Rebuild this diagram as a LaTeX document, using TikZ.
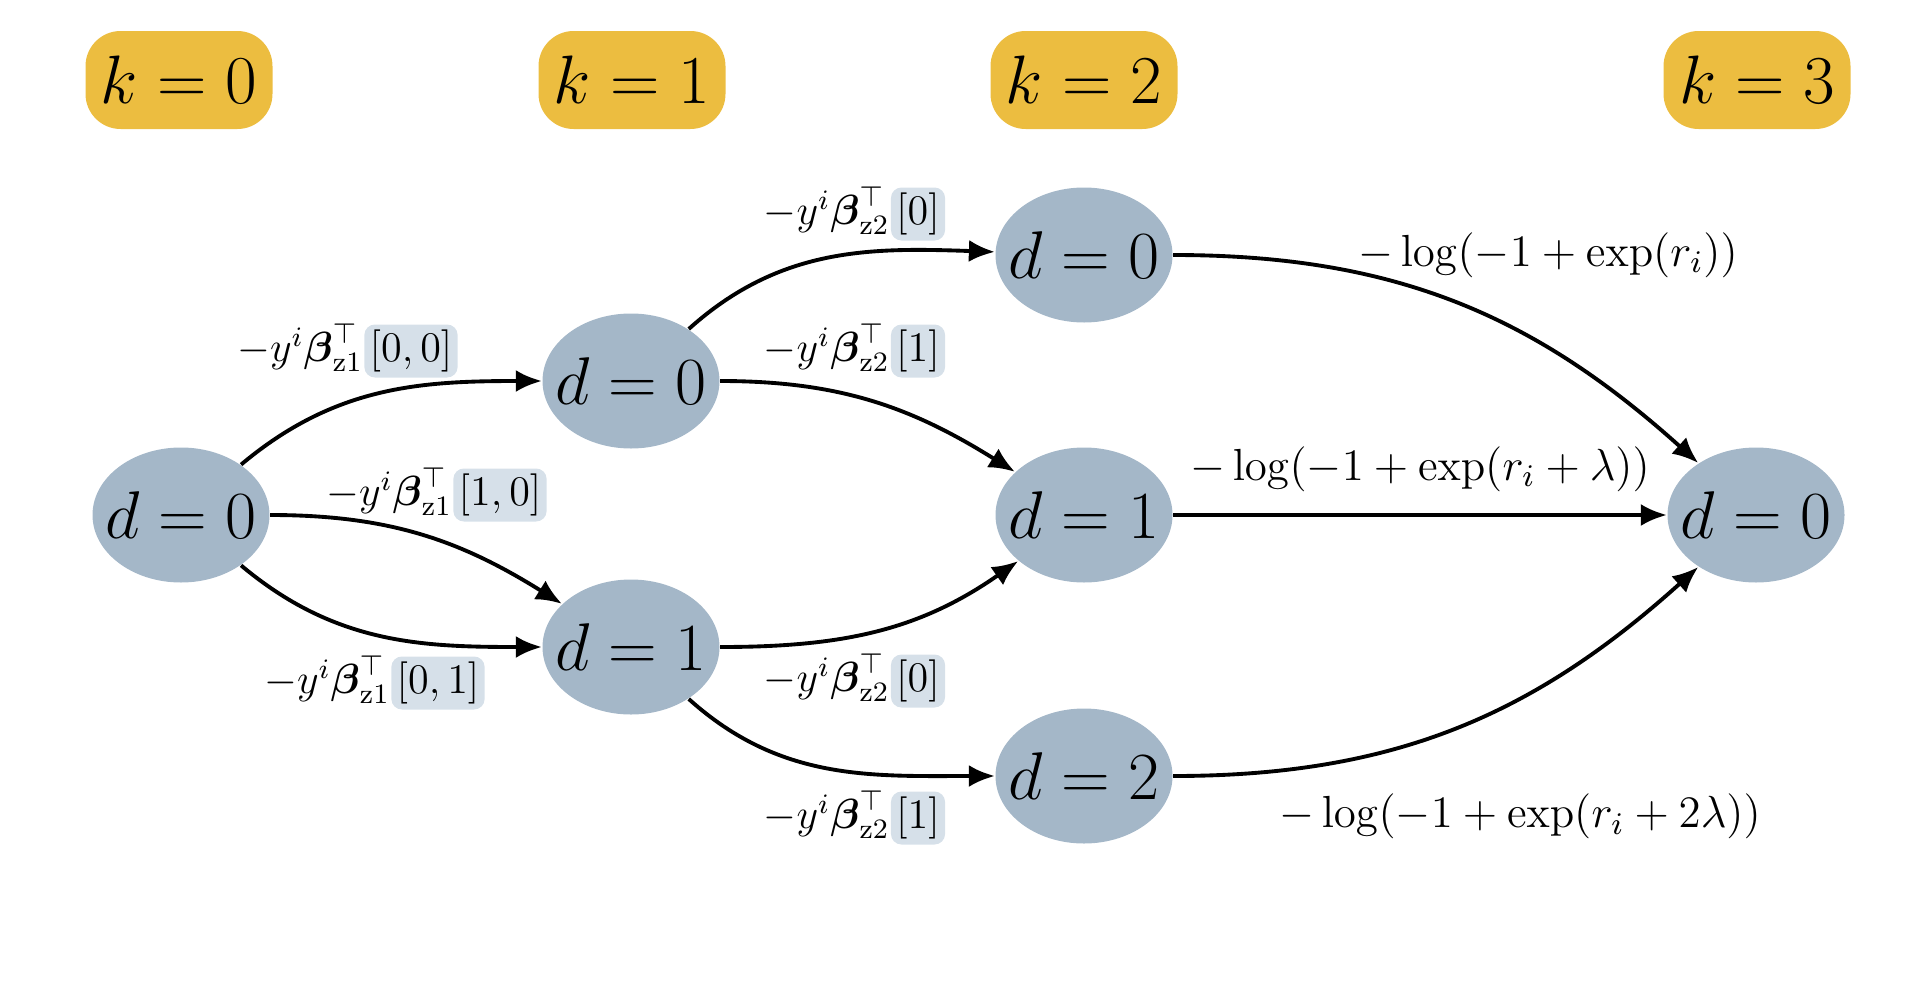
\RequirePackage{fix-cm}
\documentclass[tikz,border=0pt]{standalone}
\usepackage{amsmath,amssymb}
\usepackage{xcolor}
\definecolor{kyellow}{RGB}{236,189,64}
\definecolor{dgray}{RGB}{164,183,200}
\definecolor{hlblue}{RGB}{214,224,233}
\usetikzlibrary{arrows.meta,positioning,shapes.geometric}

\begin{document}
\begin{tikzpicture}[
  stage/.style={fill=kyellow,rounded corners=10pt,minimum width=1.87cm,minimum height=0.98cm,
    inner sep=0pt,font=\fontsize{19.5}{23}\selectfont},
  state/.style={ellipse,fill=dgray,minimum width=1.77cm,minimum height=1.35cm,
    inner xsep=-0.3cm,inner ysep=0pt,font=\fontsize{19.2}{23}\selectfont},
  hl/.style={fill=hlblue,rounded corners=3pt,inner sep=1.5pt,minimum height=0.53cm,font=\large},
  lbl/.style={inner sep=0pt,font=\large},
  cost/.style={inner sep=0pt,font=\fontsize{12.8}{15}\selectfont},
  arr/.style={-{Latex[length=2.6mm,width=2.2mm]},line width=1.1pt}
]
  \useasboundingbox (0,0) rectangle (19.2,9.92);
  % Stages
  \node[stage] (k0) at (1.79,9.12) {$k=0$};
  \node[stage] (k1) at (6.32,9.12) {$k=1$};
  \node[stage] (k2) at (10.84,9.12) {$k=2$};
  \node[stage] (k3) at (17.57,9.12) {$k=3$};
  % States
  \node[state] (n00) at (1.81,4.77) {$d=0$};
  \node[state] (n10) at (6.31,6.11) {$d=0$};
  \node[state] (n11) at (6.31,3.45) {$d=1$};
  \node[state] (n20) at (10.84,7.37) {$d=0$};
  \node[state] (n21) at (10.84,4.77) {$d=1$};
  \node[state] (n22) at (10.84,2.16) {$d=2$};
  \node[state] (n30) at (17.56,4.77) {$d=0$};
  % Edges
  \draw[arr] (n00) to[out=40,in=180] (n10);
  \draw[arr] (n00) to[out=0,in=148] (n11);
  \draw[arr] (n00) to[out=-40,in=180] (n11);
  \draw[arr] (n10) to[out=42,in=178] (n20);
  \draw[arr] (n10) to[out=0,in=148] (n21);
  \draw[arr] (n11) to[out=0,in=-145] (n21);
  \draw[arr] (n11) to[out=-42,in=180] (n22);
  \draw[arr] (n20) to[out=0,in=138] (n30);
  \draw[arr] (n21) -- (n30);
  \draw[arr] (n22) to[out=0,in=-138] (n30);
  % Edge labels (index part highlighted)
  \node[hl] (h1) at (4.11,6.41) {$[0,0]$};
  \node[lbl,anchor=base east] (l1) at (h1.base west) {$-y^i\boldsymbol{\beta}^\top_{\mathrm{z1}}$};
  \node[hl] (h2) at (5.00,4.97) {$[1,0]$};
  \node[lbl,anchor=base east] (l2) at (h2.base west) {$-y^i\boldsymbol{\beta}^\top_{\mathrm{z1}}$};
  \node[hl] (h3) at (4.38,3.09) {$[0,1]$};
  \node[lbl,anchor=base east] (l3) at (h3.base west) {$-y^i\boldsymbol{\beta}^\top_{\mathrm{z1}}$};
  \node[hl] (h4) at (9.18,7.78) {$[0]$};
  \node[lbl,anchor=base east] (l4) at (h4.base west) {$-y^i\boldsymbol{\beta}^\top_{\mathrm{z2}}$};
  \node[hl] (h5) at (9.18,6.41) {$[1]$};
  \node[lbl,anchor=base east] (l5) at (h5.base west) {$-y^i\boldsymbol{\beta}^\top_{\mathrm{z2}}$};
  \node[hl] (h6) at (9.18,3.11) {$[0]$};
  \node[lbl,anchor=base east] (l6) at (h6.base west) {$-y^i\boldsymbol{\beta}^\top_{\mathrm{z2}}$};
  \node[hl] (h7) at (9.18,1.74) {$[1]$};
  \node[lbl,anchor=base east] (l7) at (h7.base west) {$-y^i\boldsymbol{\beta}^\top_{\mathrm{z2}}$};
  % Terminal costs
  \node[cost] (c0) at (15.48,7.37) {$-\log(-1+\exp(r_i))$};
  \node[cost] (c1) at (14.20,5.23) {$-\log(-1+\exp(r_i+\lambda))$};
  \node[cost] (c2) at (15.20,1.76) {$-\log(-1+\exp(r_i+2\lambda))$};
\end{tikzpicture}
\end{document}
